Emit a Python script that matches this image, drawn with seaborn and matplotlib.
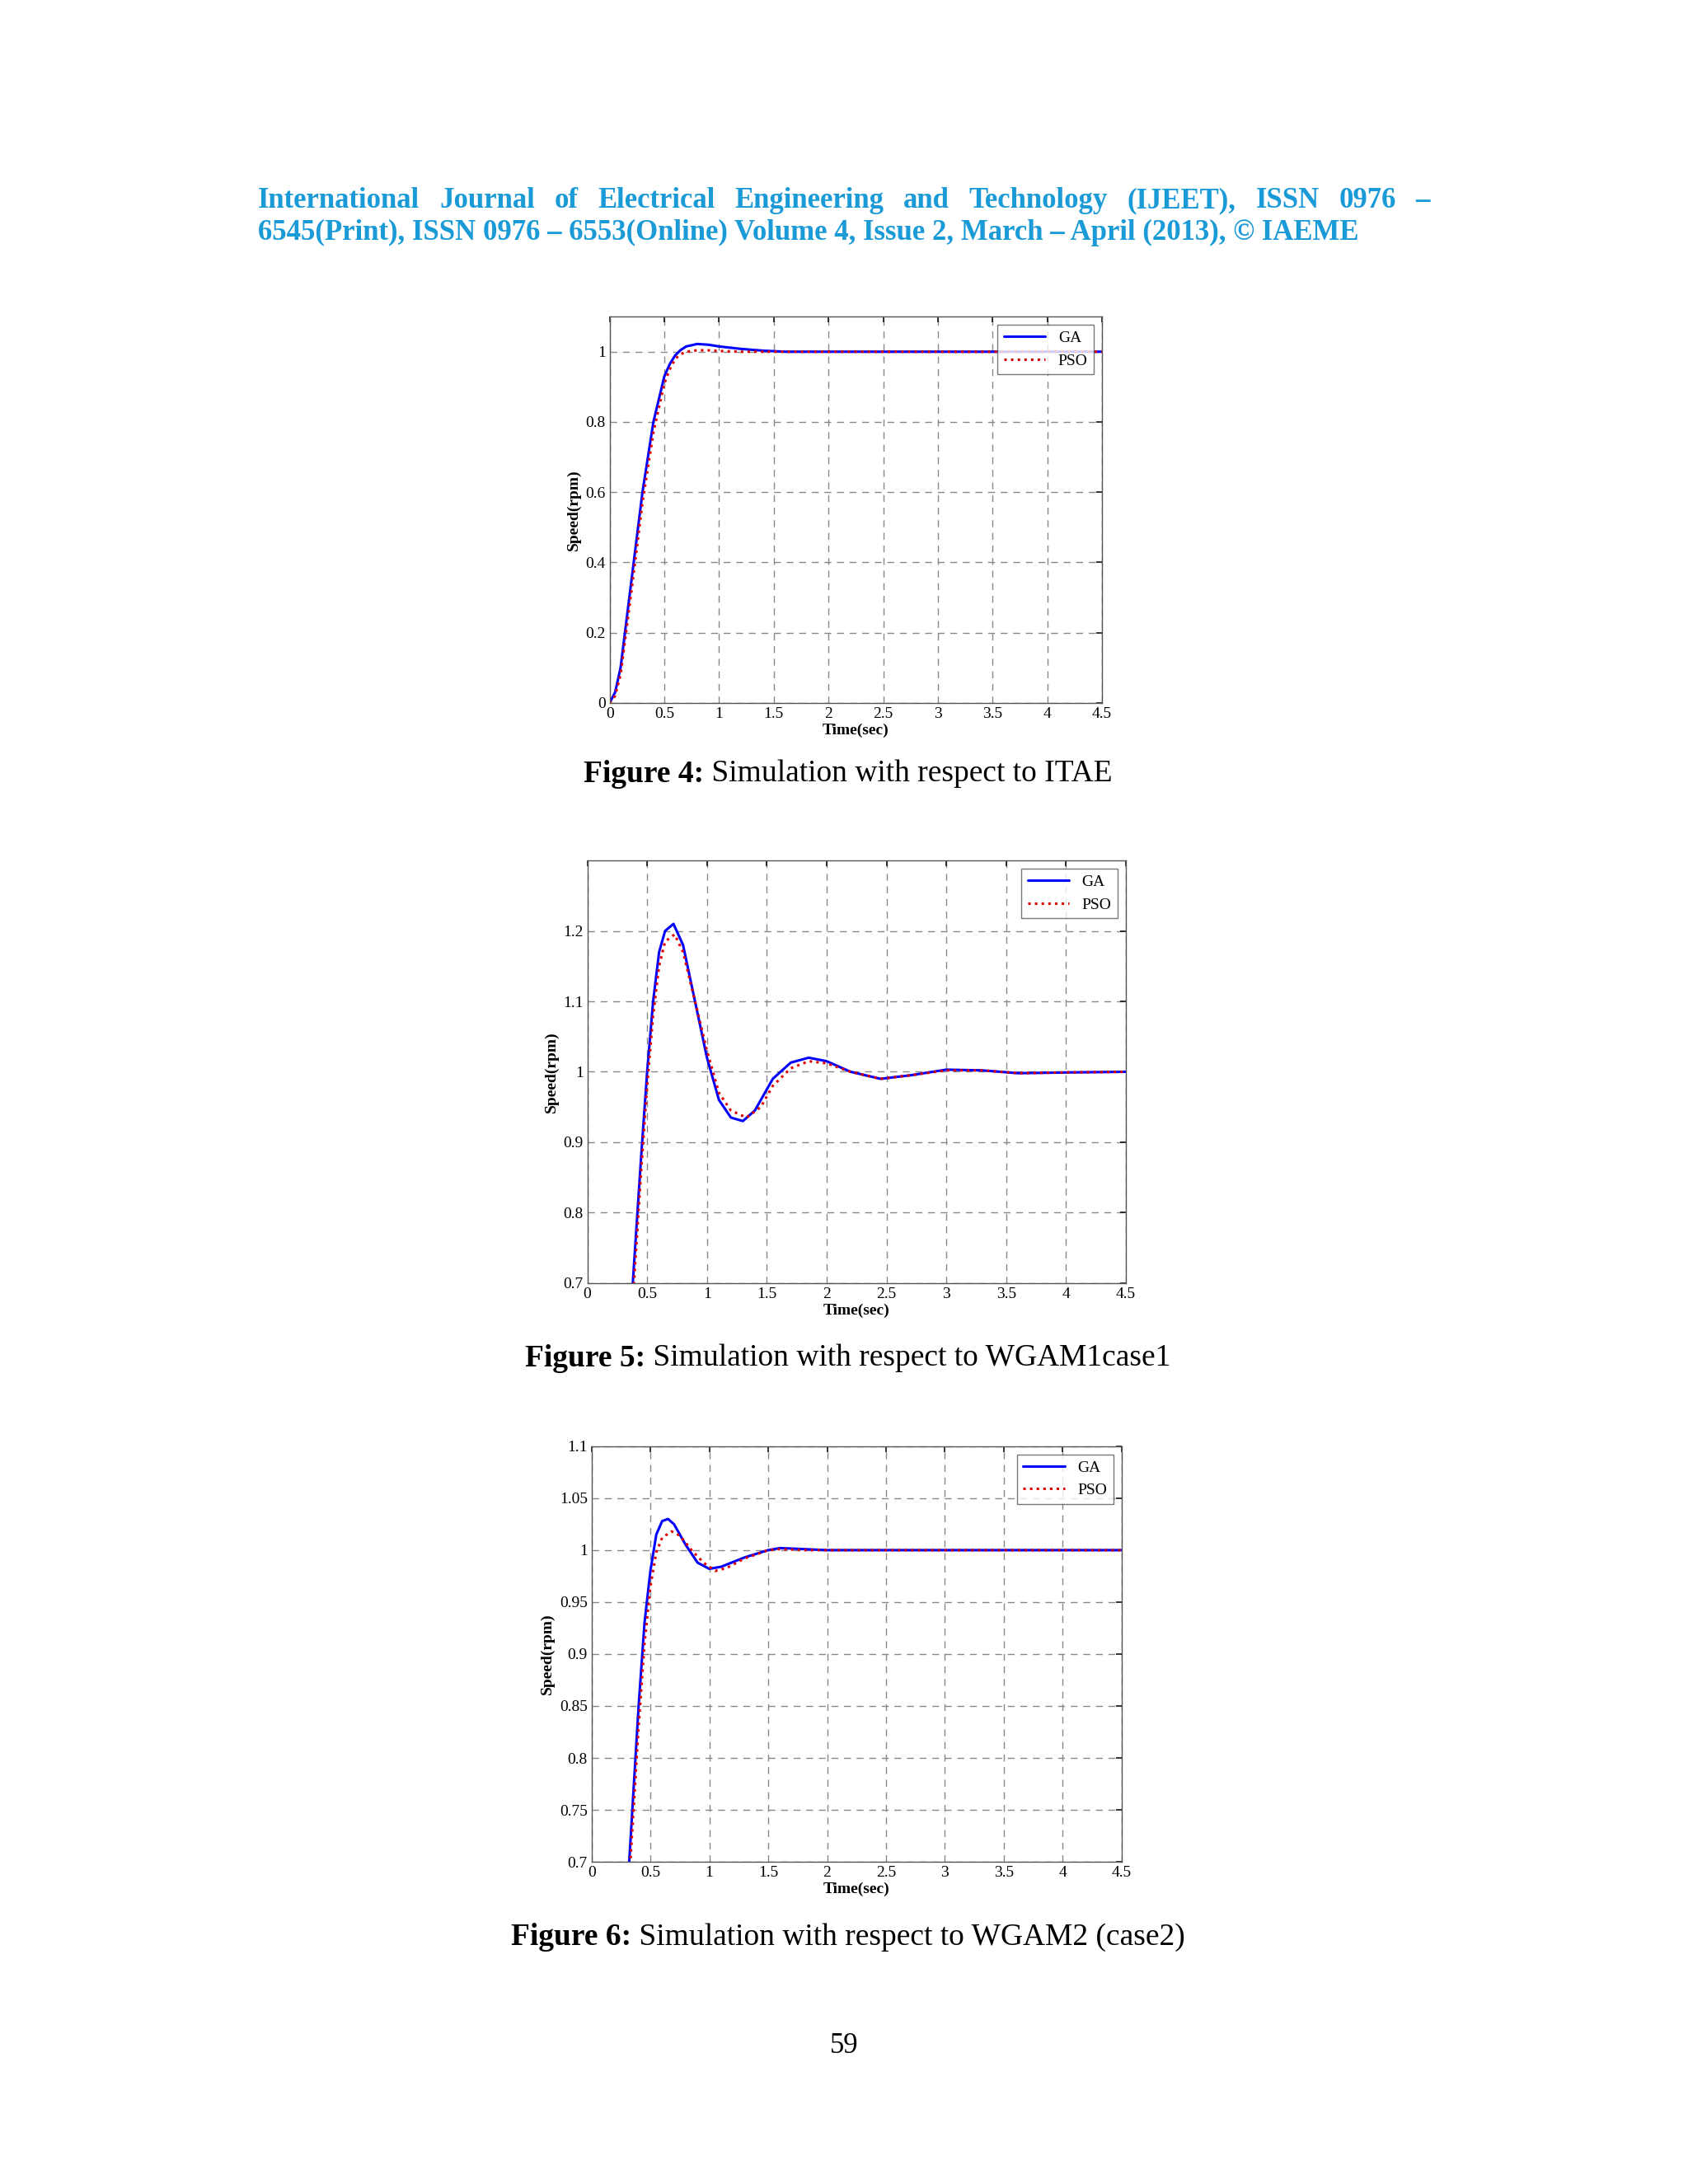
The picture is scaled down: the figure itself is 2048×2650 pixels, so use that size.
import matplotlib
matplotlib.use("Agg")
import matplotlib.pyplot as plt
import matplotlib.ticker as mticker
import seaborn as sns
import pandas as pd

sns.set_theme(style="white")
plt.rcParams['font.family'] = ['Liberation Serif', 'DejaVu Serif']
plt.rcParams['text.color'] = 'black'
plt.rcParams['axes.labelcolor'] = 'black'
plt.rcParams['xtick.color'] = 'black'
plt.rcParams['ytick.color'] = 'black'

# ---- data ----
T4_GA = [0, 0.05, 0.1, 0.2, 0.3, 0.4, 0.5, 0.55, 0.6, 0.65, 0.7, 0.8, 0.9, 1.0, 1.2, 1.4, 1.6, 2.0, 4.5]
Y4_GA = [0, 0.03, 0.1, 0.35, 0.6, 0.8, 0.93, 0.965, 0.99, 1.005, 1.015, 1.022, 1.02, 1.015, 1.008, 1.003, 1.0, 1.0, 1.0]
T4_PSO = [0, 0.05, 0.1, 0.2, 0.3, 0.4, 0.5, 0.55, 0.6, 0.65, 0.7, 0.8, 0.9, 1.0, 1.2, 4.5]
Y4_PSO = [0, 0.02, 0.08, 0.32, 0.57, 0.77, 0.91, 0.95, 0.98, 0.993, 1.0, 1.004, 1.004, 1.002, 1.0, 1.0]

T5_GA = [0, 0.38, 0.45, 0.5, 0.55, 0.6, 0.65, 0.72, 0.8, 0.9, 1.0, 1.1, 1.2, 1.3, 1.4, 1.55, 1.7, 1.85, 2.0, 2.2, 2.45, 2.7, 3.0, 3.3, 3.6, 4.0, 4.5]
Y5_GA = [0, 0.7, 0.88, 1.0, 1.1, 1.17, 1.2, 1.21, 1.18, 1.1, 1.02, 0.96, 0.935, 0.93, 0.945, 0.99, 1.013, 1.02, 1.015, 1.0, 0.99, 0.995, 1.003, 1.002, 0.998, 0.999, 1.0]
T5_PSO = [0, 0.39, 0.45, 0.5, 0.55, 0.6, 0.65, 0.73, 0.8, 0.9, 1.0, 1.1, 1.2, 1.33, 1.45, 1.55, 1.7, 1.85, 2.0, 2.2, 2.45, 2.7, 3.0, 3.3, 3.6, 4.0, 4.5]
Y5_PSO = [0, 0.7, 0.86, 0.98, 1.08, 1.15, 1.185, 1.195, 1.17, 1.1, 1.03, 0.97, 0.945, 0.935, 0.95, 0.98, 1.005, 1.015, 1.012, 1.0, 0.99, 0.995, 1.002, 1.002, 0.998, 0.999, 1.0]

T6_GA = [0, 0.32, 0.4, 0.45, 0.5, 0.55, 0.6, 0.65, 0.7, 0.8, 0.9, 1.0, 1.1, 1.3, 1.5, 1.6, 1.8, 2.0, 4.5]
Y6_GA = [0, 0.7, 0.85, 0.93, 0.98, 1.015, 1.028, 1.03, 1.025, 1.005, 0.988, 0.982, 0.984, 0.993, 1.0, 1.002, 1.001, 1.0, 1.0]
T6_PSO = [0, 0.33, 0.4, 0.45, 0.5, 0.55, 0.6, 0.68, 0.75, 0.85, 0.95, 1.05, 1.15, 1.3, 1.5, 1.6, 1.8, 2.0, 4.5]
Y6_PSO = [0, 0.7, 0.83, 0.91, 0.965, 0.998, 1.012, 1.018, 1.014, 1.0, 0.988, 0.98, 0.983, 0.992, 1.0, 1.001, 1.0, 1.0, 1.0]

X_TICKS = [0, 0.5, 1, 1.5, 2, 2.5, 3, 3.5, 4, 4.5]
Y4_TICKS = [0, 0.2, 0.4, 0.6, 0.8, 1]
Y5_TICKS = [0.7, 0.8, 0.9, 1, 1.1, 1.2]
Y6_TICKS = [0.7, 0.75, 0.8, 0.85, 0.9, 0.95, 1, 1.05, 1.1]

HEADER1 = "International Journal of Electrical Engineering and Technology (IJEET), ISSN 0976 \u2013"
HEADER2 = "6545(Print), ISSN 0976 \u2013 6553(Online) Volume 4, Issue 2, March \u2013 April (2013), \u00a9 IAEME"
CAPTIONS = [("Figure 4:", " Simulation with respect to ITAE"),
            ("Figure 5:", " Simulation with respect to WGAM1case1"),
            ("Figure 6:", " Simulation with respect to WGAM2 (case2)")]

W, H = 1210, 1566
fig = plt.figure(figsize=(20.48, 26.5), dpi=100)
fig.patch.set_facecolor('white')

panels = [
    ((437, 227, 790, 504), T4_GA, Y4_GA, T4_PSO, Y4_PSO, (0, 1.1), Y4_TICKS),
    ((421, 617, 807, 920), T5_GA, Y5_GA, T5_PSO, Y5_PSO, (0.7, 1.3), Y5_TICKS),
    ((424, 1037, 804, 1335), T6_GA, Y6_GA, T6_PSO, Y6_PSO, (0.7, 1.1), Y6_TICKS),
]
cap_y = [555, 974, 1389]

for (box, tg, yg, tp, yp, ylim, yt), cy, cap in zip(panels, cap_y, CAPTIONS):
    x0, y0, x1, y1 = box
    ax = fig.add_axes([x0 / W, 1 - y1 / H, (x1 - x0) / W, (y1 - y0) / H])
    ga = pd.DataFrame({'t': tg, 'y': yg})
    pso = pd.DataFrame({'t': tp, 'y': yp})
    sns.lineplot(data=ga, x='t', y='y', ax=ax, color='#0000ff', lw=2.2, label='GA')
    sns.lineplot(data=pso, x='t', y='y', ax=ax, color='#e00000', lw=2.2, ls=':', label='PSO')
    ax.set_xlim(0, 4.5)
    ax.set_ylim(*ylim)
    ax.set_xticks(X_TICKS)
    ax.set_yticks(yt)
    fmt = mticker.FuncFormatter(lambda v, p: f"{v:g}")
    ax.xaxis.set_major_formatter(fmt)
    ax.yaxis.set_major_formatter(fmt)
    ax.tick_params(direction='in', top=True, right=True, labelsize=14, length=5, color='k')
    ax.grid(True, ls=(0, (6, 5)), color='#888888', lw=1)
    for s in ax.spines.values():
        s.set_color('#555555')
        s.set_linewidth(1)
    ax.set_xlabel('Time(sec)', fontsize=14, fontweight='bold', labelpad=2)
    ax.set_ylabel('Speed(rpm)', fontsize=14, fontweight='bold')
    ax.legend(loc='upper right', fontsize=14, frameon=True, fancybox=False,
              edgecolor='#555555', handlelength=2.6)
    # caption: bold label followed by regular text, centred as a whole
    t1 = fig.text(0.5, 1 - cy / H, cap[0] + cap[1], fontsize=27, ha='center', va='center', alpha=0)
    fig.canvas.draw()
    r = fig.canvas.get_renderer()
    bb = t1.get_window_extent(r)
    a = fig.text(bb.x0 / fig.bbox.width, 1 - cy / H, cap[0], fontsize=27, fontweight='bold', va='center')
    ab = a.get_window_extent(r)
    fig.text(ab.x1 / fig.bbox.width, 1 - cy / H, cap[1], fontsize=27, va='center')

# justified header line 1
blue = '#1a9ad6'
fig.canvas.draw()
r = fig.canvas.get_renderer()
words = HEADER1.split(' ')
left, right = 185 / W, 1025 / W
arts = [fig.text(0, 1 - 144 / H, w, fontsize=25, fontweight='bold', color=blue, va='center') for w in words]
widths = [a.get_window_extent(r).width / fig.bbox.width for a in arts]
gap = (right - left - sum(widths)) / (len(words) - 1)
x = left
for a, w in zip(arts, widths):
    a.set_x(x)
    x += w + gap
fig.text(left, 1 - 167 / H, HEADER2, fontsize=25, fontweight='bold', color=blue, va='center')

fig.text(605 / W, 1 - 1467 / H, '59', fontsize=25, ha='center', va='center')

fig.savefig('out.png', dpi=100, facecolor='white')
